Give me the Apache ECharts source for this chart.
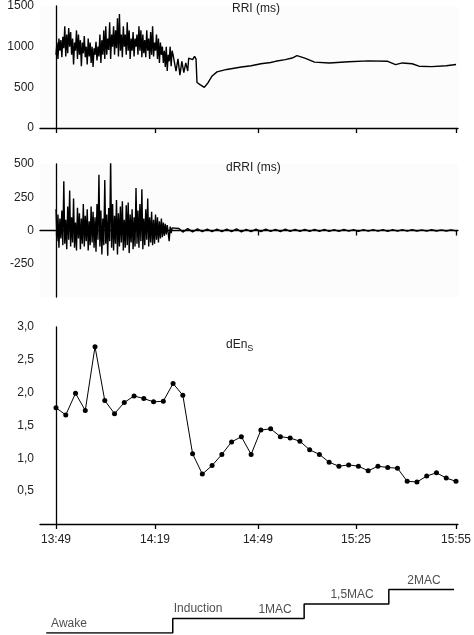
<!DOCTYPE html>
<html>
  <head>
    <meta charset="UTF-8" />
    <title>RRI dRRI dEn</title>
    <script src="https://cdn.jsdelivr.net/npm/echarts@6.0.0/dist/echarts.min.js"></script>
  </head>
  <body style="margin:0">
    <div id="chart" style="width: 474px; height: 635px"></div>
  </body>
  <script>
    // x unit = one dEn sample; tick positions for the time labels
    let tickPos = [0, 10.15, 20.7, 30.75, 41];
    let tickLabels = ["13:49", "14:19", "14:49", "15:25", "15:55"];

    // RRI awake part, one value every 0.1 unit from x=0
    let rriNoisy = [
      900,1050,850,1100,950,1080,870,1120,980,1250,
      880,1150,920,1230,1000,1180,900,1100,780,1050,
      950,1200,850,1150,900,1080,760,1050,920,1130,
      870,1000,780,1100,880,1050,800,1000,750,980,
      900,1060,830,1000,880,1150,800,1080,900,1200,
      850,1250,900,1100,960,1300,850,1150,1000,1250,
      900,1200,980,1350,880,1400,950,1150,870,1250,
      1000,1150,900,1300,950,1200,850,1100,950,1180,
      880,1100,1000,1150,900,1250,950,1200,870,1150,
      920,1080,870,1200,950,1100,850,1180,900,1250,
      880,1050,950,1150,850,1100,800,1050,900,1000,
      800,950,750,1000,700,900,820,1000,760,950,900
    ];
    // RRI after induction [x, ms]
    let rriRest = [
      [12.1,900],[12.3,700],[12.5,850],[12.7,650],[12.9,820],[13.1,680],[13.3,800],[13.5,700],
      [13.6,860],[13.8,870],[14.0,840],[14.2,880],[14.35,850],[14.45,560],[14.8,530],[15.2,500],
      [15.6,560],[16,640],[16.5,690],[17.5,720],[19,750],[20,765],[21,790],[22,805],[22.5,820],[23.5,840],
      [24.2,860],[24.7,890],[25.5,860],[26.5,810],[28,800],[30,815],[32,825],[34,820],
      [34.8,780],[35.5,800],[36.5,790],[37.2,760],[38.5,755],[40,765],[41,780]
    ];

    // dRRI awake part, one value every 0.1 unit from x=0
    let drriNoisy = [
      160,-80,120,-130,90,-60,150,-110,370,-100,
      80,-140,180,-70,300,-120,100,-90,240,-130,
      60,-150,170,-60,130,-140,90,-100,200,-120,
      110,-80,160,-150,70,-110,180,-90,140,-130,
      100,-160,200,-70,420,-120,150,-180,90,-110,
      380,-100,120,-190,170,-80,540,-130,200,-150,
      110,-100,230,-180,130,-120,180,-90,220,-150,
      80,-130,190,-110,210,-170,120,-90,160,-140,
      100,-120,320,-100,150,-130,200,-80,310,-140,
      90,-110,160,-70,240,-120,100,-90,140,-110,
      80,-100,120,-70,100,-90,70,-60,90,-50,
      60,-40,50,-30,40,-20,-80,30,-20,20
    ];
    // dRRI quiet tail [x, ms]
    let drriRest = [
      [12.6,15],[13,-12],[13.5,14],[14,-10],[14.5,12],[15,-9],[15.5,10],[16,-8],[16.5,11],[17,-9],
      [17.5,10],[18,-8],[18.5,12],[19,-10],[19.5,9],[20,-8],[20.5,10],[21,-9],[21.5,11],[22,-7],
      [22.5,9],[23,-8],[23.5,10],[24,-7],[24.5,8],[25,-7],[25.5,9],[26,-6],[26.5,8],[27,-7],
      [27.5,8],[28,-6],[28.5,7],[29,-6],[29.5,8],[30,-5],[30.5,7],[31,-6],[31.5,7],[32,-5],
      [32.5,6],[33,-5],[33.5,7],[34,-6],[34.5,6],[35,-5],[35.5,6],[36,-5],[36.5,6],[37,-4],
      [37.5,5],[38,-5],[38.5,6],[39,-4],[39.5,5],[40,-4],[40.5,5],[41,-3]
    ];

    let denValues = [
      1.77,1.66,1.99,1.73,2.70,1.88,1.68,1.85,1.95,1.91,1.86,1.87,2.14,1.96,
      1.07,0.76,0.89,1.06,1.25,1.33,1.06,1.43,1.45,1.33,1.31,1.26,1.13,1.06,
      0.94,0.88,0.90,0.88,0.81,0.88,0.86,0.85,0.65,0.64,0.73,0.78,0.70,0.65
    ];

    // anaesthesia stages: step positions (x units) and level
    let stageSteps = [[-1,0],[12,0],[12,1],[25.5,1],[25.5,2],[34.2,2],[34.2,3],[40.9,3]];
    let stageLabels = [
      ["Awake", -0.5, 0.62], ["Induction", 12.1, 1.65], ["1MAC", 20.8, 1.6],
      ["1,5MAC", 28.2, 2.65], ["2MAC", 36.1, 3.6]
    ];

    let rriData = rriNoisy.map((v, i) => [i * 0.1, v]).concat(rriRest);
    let drriData = drriNoisy.map((v, i) => [i * 0.1, v]).concat(drriRest);
    let denData = denValues.map((v, i) => [i, v]);

    let font = "Liberation Sans";
    let lbl = { color: "#222", fontSize: 11, fontFamily: font };
    let titleStyle = { fontSize: 12, fontWeight: "normal", fontFamily: font, color: "#222" };

    function xAxisFor(idx, showLabels) {
      return {
        gridIndex: idx, type: "value", min: -1.64, max: 41.2,
        axisLine: { lineStyle: { color: "#000", width: 1.3 } },
        splitLine: { show: false },
        axisTick: { show: true, customValues: tickPos, length: 5, lineStyle: { color: "#000", width: 1.3 } },
        axisLabel: showLabels ? {
          ...lbl, fontSize: 12, margin: 10, customValues: tickPos,
          formatter: (v) => tickLabels[tickPos.indexOf(v)] || ""
        } : { show: false }
      };
    }
    function yAxisFor(idx, min, max, interval, hide, fmt) {
      return {
        gridIndex: idx, type: "value", min: min, max: max, interval: interval,
        axisLine: { show: true, lineStyle: { color: "#000", width: 1.3 } },
        axisTick: { show: false },
        splitLine: { show: false },
        axisLabel: { ...lbl, fontSize: 12, margin: 6, formatter: (v) => (hide.includes(v) ? "" : fmt(v)) }
      };
    }

    let myChart = echarts.init(document.getElementById("chart"));
    myChart.setOption({
      animation: false,
      backgroundColor: "#fff",
      title: [
        { text: "RRI (ms)", left: 227, top: -2, textStyle: titleStyle },
        { text: "dRRI (ms)", left: 221, top: 157, textStyle: titleStyle },
        { text: "{a|dEn}{b|S}", left: 221, top: 332, textStyle: { fontWeight: "normal", rich: {
          a: { ...titleStyle },
          b: { ...titleStyle, fontSize: 9, padding: [7, 0, 0, 0] } } } }
      ],
      grid: [
        { left: 40, right: 16, top: 5, height: 123, show: true, backgroundColor: "#fcfcfc", borderWidth: 0 },
        { left: 40, right: 16, top: 164, height: 133, show: true, backgroundColor: "#fcfcfc", borderWidth: 0 },
        { left: 40, right: 16, top: 327, height: 197, borderWidth: 0 },
        { left: 46.24, right: 19, top: 575, height: 58 }
      ],
      xAxis: [
        xAxisFor(0, false), xAxisFor(1, false), xAxisFor(2, true),
        { gridIndex: 3, type: "value", min: -1, max: 41, show: false }
      ],
      yAxis: [
        yAxisFor(0, 0, 1500, 500, [], (v) => String(v)),
        yAxisFor(1, -500, 500, 250, [-500], (v) => String(v)),
        yAxisFor(2, 0, 3, 0.5, [0], (v) => v.toFixed(1).replace(".", ",")),
        { gridIndex: 3, type: "value", min: 0, max: 4, show: false }
      ],
      series: [
        { type: "line", xAxisIndex: 0, yAxisIndex: 0, data: rriData, symbol: "none",
          lineStyle: { color: "#000", width: 1.4 } },
        { type: "line", xAxisIndex: 1, yAxisIndex: 1, data: drriData, symbol: "none",
          lineStyle: { color: "#000", width: 1.4 } },
        { type: "line", xAxisIndex: 2, yAxisIndex: 2, data: denData, symbol: "circle", symbolSize: 5,
          itemStyle: { color: "#000" }, lineStyle: { color: "#000", width: 1 } },
        { type: "line", xAxisIndex: 3, yAxisIndex: 3, data: stageSteps, symbol: "none",
          lineStyle: { color: "#000", width: 1.5 } },
        { type: "scatter", xAxisIndex: 3, yAxisIndex: 3, symbolSize: 0,
          data: stageLabels.map((s) => ({ value: [s[1], s[2]], name: s[0] })),
          label: { show: true, position: "right", distance: 0, formatter: (p) => p.name, ...lbl, fontSize: 12 } }
      ]
    });
  </script>
</html>
